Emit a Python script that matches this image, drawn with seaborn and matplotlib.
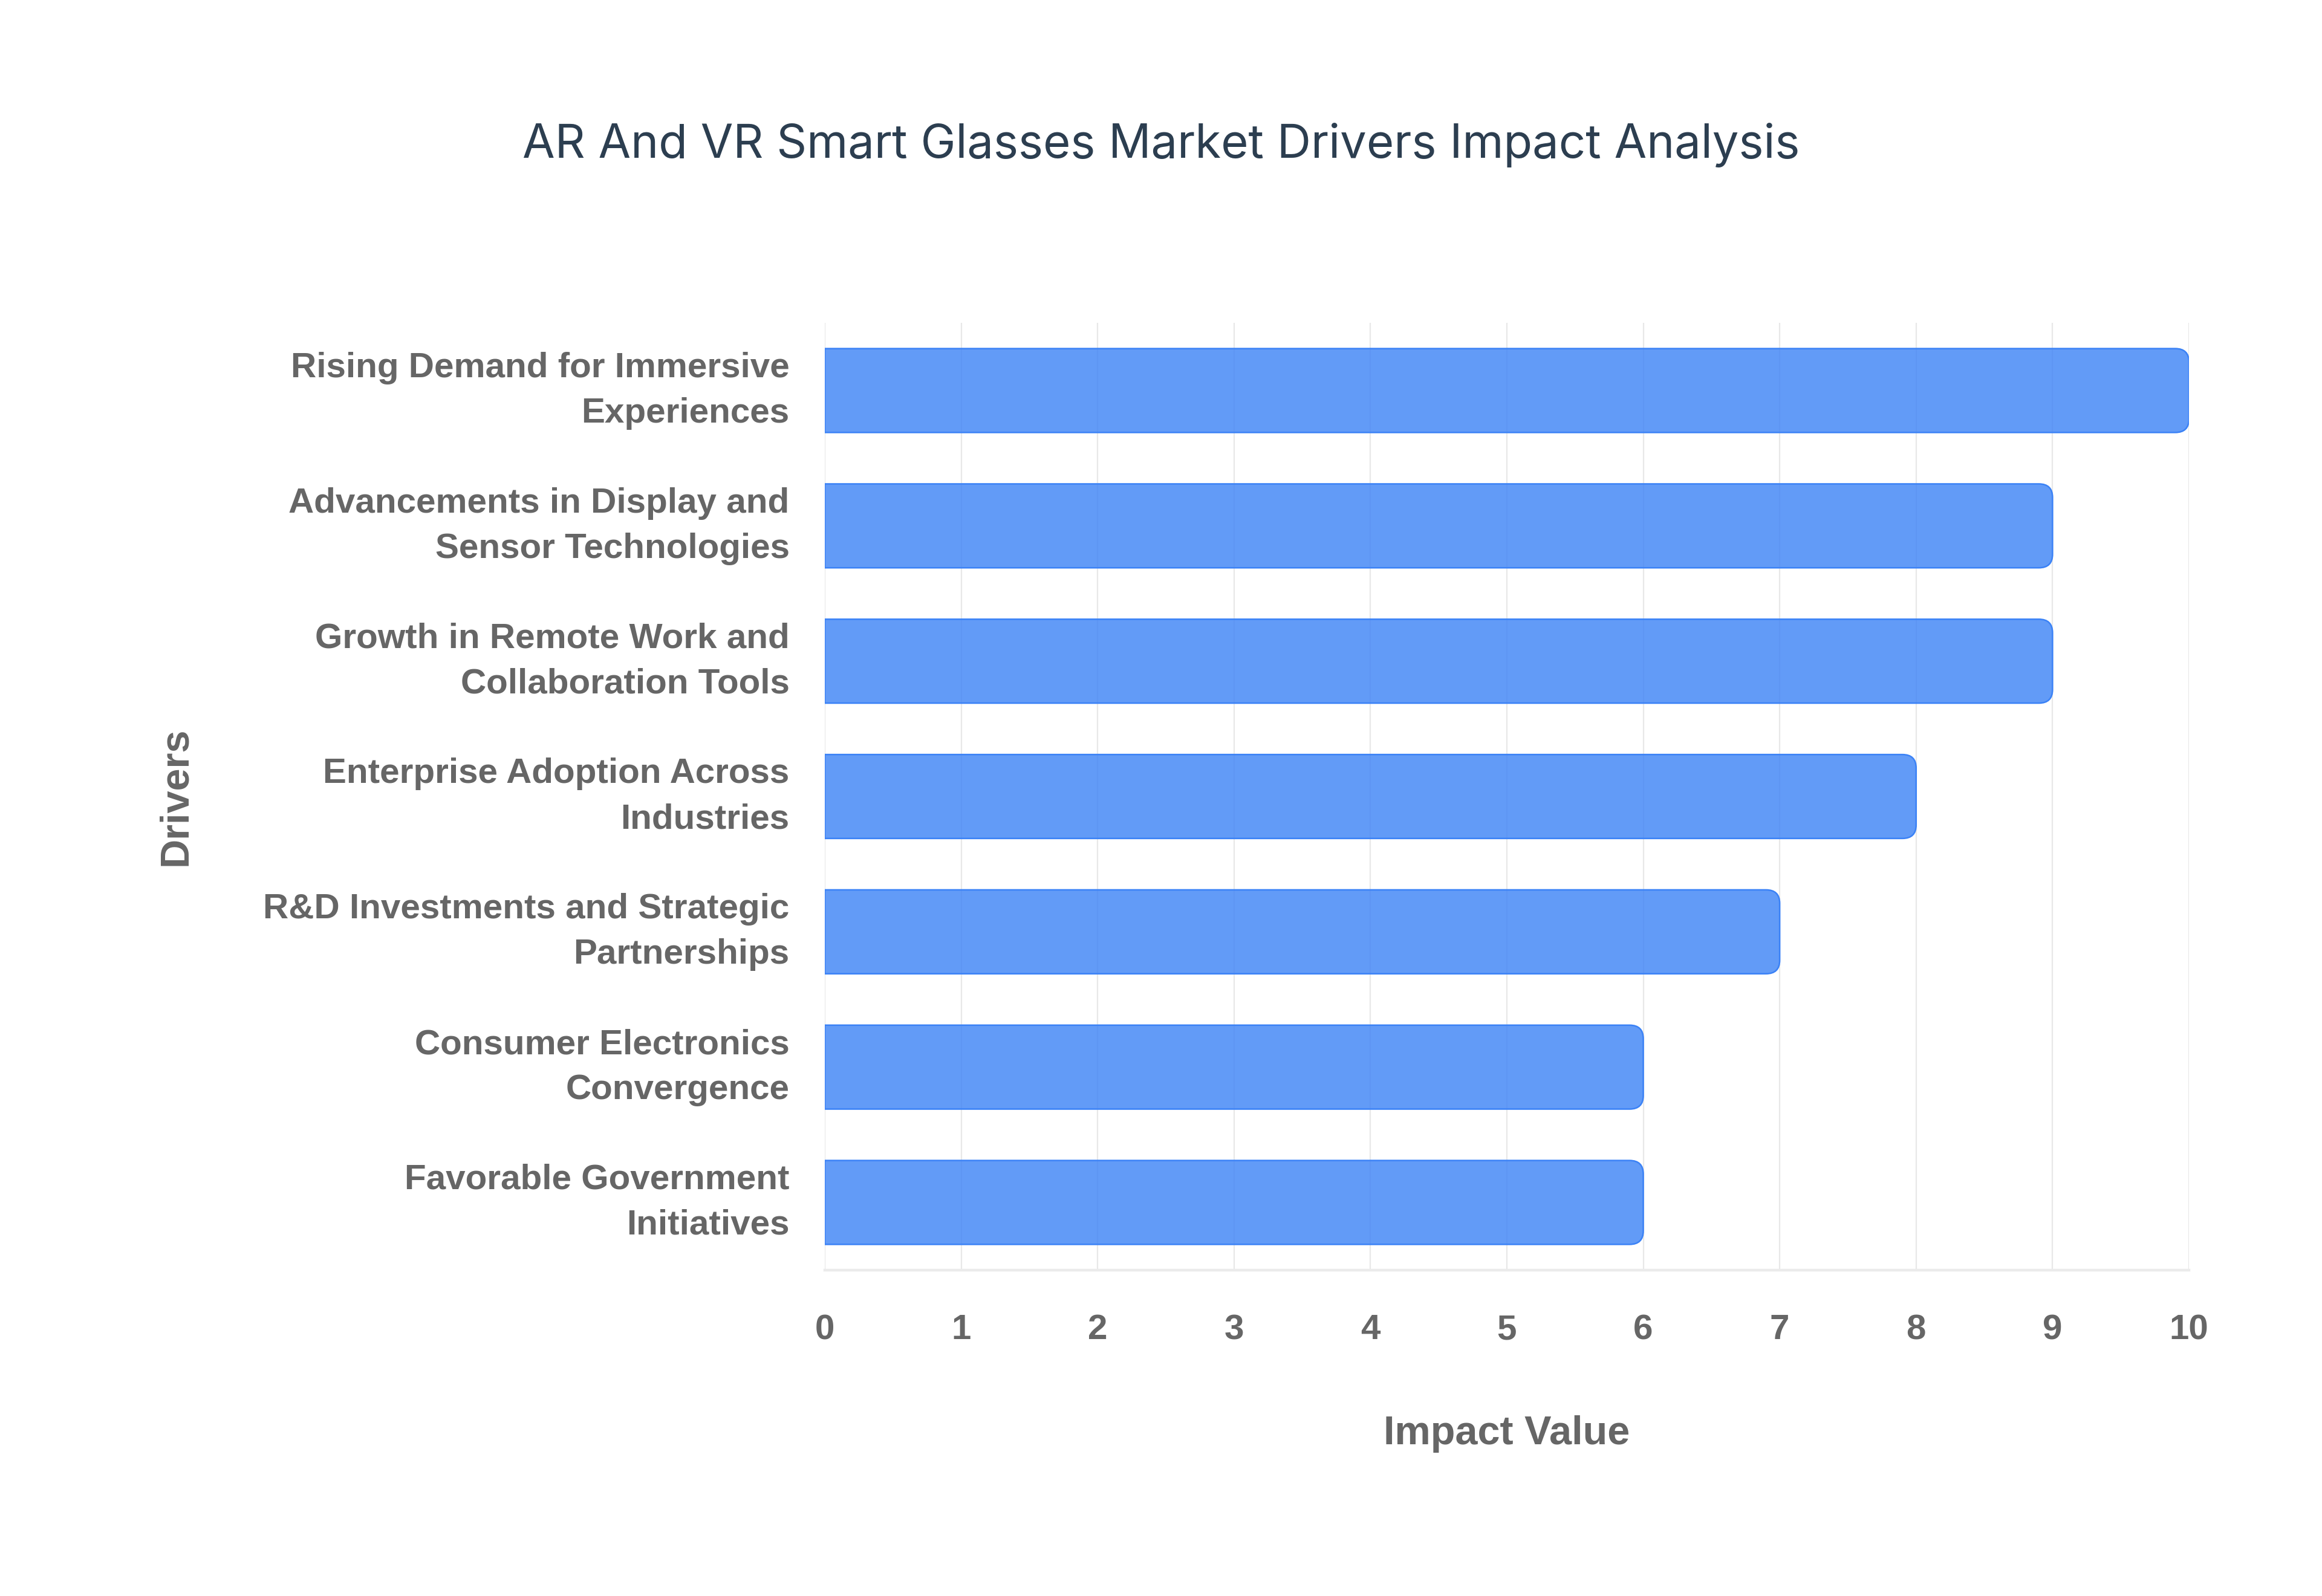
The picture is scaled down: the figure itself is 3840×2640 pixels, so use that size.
import numpy as np
import pandas as pd
import matplotlib.pyplot as plt
import matplotlib.transforms as mtransforms
import seaborn as sns
from matplotlib.path import Path
from matplotlib.patches import PathPatch

# Data
drivers = [
    "Rising Demand for Immersive\nExperiences",
    "Advancements in Display and\nSensor Technologies",
    "Growth in Remote Work and\nCollaboration Tools",
    "Enterprise Adoption Across\nIndustries",
    "R&D Investments and Strategic\nPartnerships",
    "Consumer Electronics\nConvergence",
    "Favorable Government\nInitiatives",
]
impact = [10, 9, 9, 8, 7, 6, 6]

df = pd.DataFrame({"Drivers": drivers, "Impact Value": impact})

sns.set_style("white")
plt.rcParams['font.family'] = ['Liberation Sans', 'DejaVu Sans']

fig = plt.figure(figsize=(19.2, 13.2), dpi=200)
ax = fig.add_axes([0.3552, 0.2042, 0.5875, 0.5935])

sns.barplot(data=df, x="Impact Value", y="Drivers", orient="h", color="#3b82f6",
            width=0.62, ax=ax, zorder=3)


def right_rounded(x0, y0, w, h, rx, ry):
    # square on the left, rounded on the right
    x1, y1 = x0 + w, y0 + h
    verts = [(x0, y0), (x1 - rx, y0), (x1, y0), (x1, y0 + ry),
             (x1, y1 - ry), (x1, y1), (x1 - rx, y1), (x0, y1), (x0, y0)]
    codes = [Path.MOVETO, Path.LINETO, Path.CURVE3, Path.CURVE3,
             Path.LINETO, Path.CURVE3, Path.CURVE3, Path.LINETO, Path.CLOSEPOLY]
    return Path(verts, codes)


for p in list(ax.patches):
    x0, y0 = p.get_x(), p.get_y()
    w, h = p.get_width(), p.get_height()
    path = right_rounded(x0, y0, w, h, 0.1, 0.1 * np.sign(h))
    ax.add_patch(PathPatch(path, facecolor=(59/255, 130/255, 246/255, 0.8),
                           edgecolor="#3b82f6", linewidth=0.9, zorder=3))
    p.remove()

ax.set_xlim(0, 10)
ax.set_ylim(6.5, -0.5)
ax.set_xticks(range(0, 11))

# Decorations
ax.grid(axis="x", color="#e8e8e8", linewidth=0.8, zorder=0)
ax.grid(axis="y", visible=False)
for s in ["top", "right", "left"]:
    ax.spines[s].set_visible(False)
ax.spines["bottom"].set_color("#ebebeb")
ax.spines["bottom"].set_linewidth(1.6)

ax.tick_params(axis="x", length=11, width=0.8, color="#e8e8e8", pad=15,
               labelsize=21, labelcolor="#666666")
ax.tick_params(axis="y", length=0, pad=21, labelsize=21, labelcolor="#666666")
for lab in ax.get_xticklabels() + ax.get_yticklabels():
    lab.set_fontweight("bold")
shift = mtransforms.ScaledTranslation(0, 0.08, fig.dpi_scale_trans)
for lab in ax.get_yticklabels():
    lab.set_linespacing(1.5)
    lab.set_transform(lab.get_transform() + shift)

ax.set_xlabel("Impact Value", fontsize=24, fontweight="bold", color="#666666")
ax.set_ylabel("Drivers", fontsize=24, fontweight="bold", color="#666666")
ax.xaxis.set_label_coords(0.5, -0.153)
ax.yaxis.set_label_coords(-0.462, 0.5)

fig.text(0.5, 0.909, "AR And VR Smart Glasses Market Drivers Impact Analysis",
         ha="center", va="center", fontsize=28, color="#2c3e50", family="Inter")

fig.savefig("out.png", dpi=200)
